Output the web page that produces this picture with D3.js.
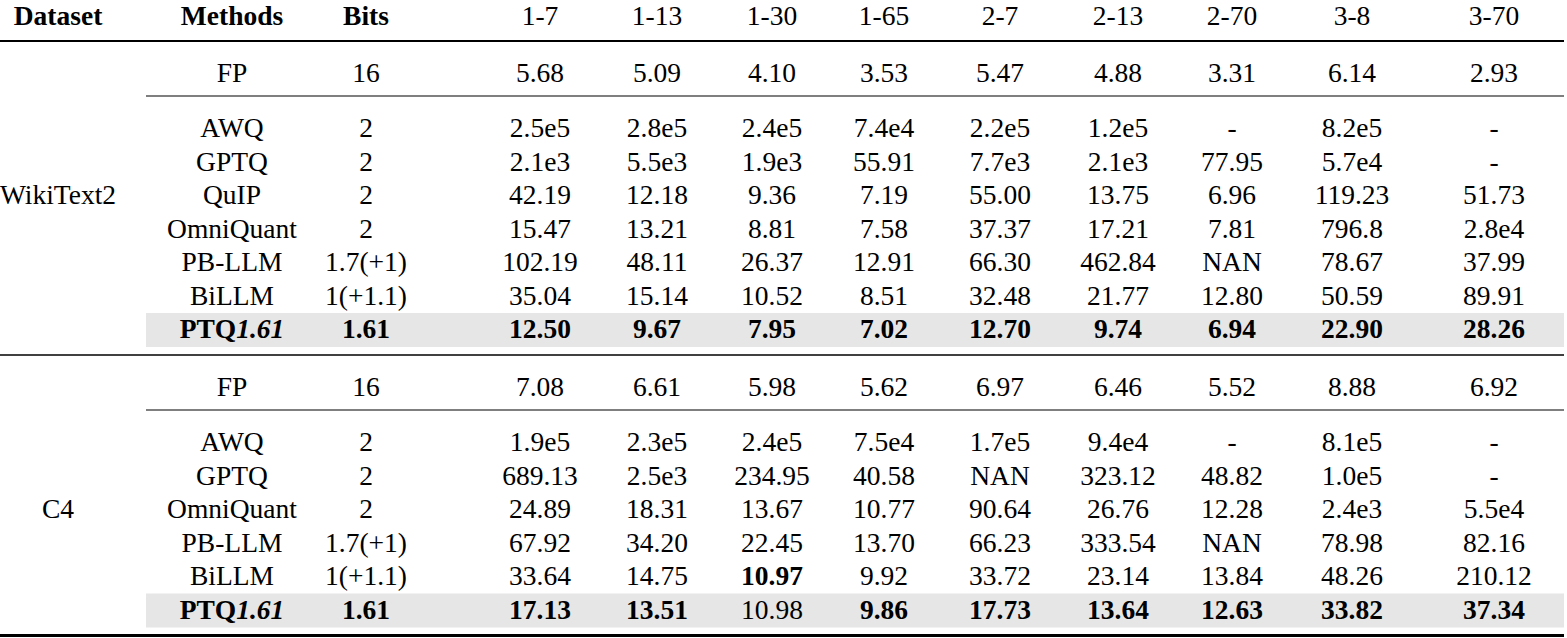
<!DOCTYPE html>
<html>
<head>
<meta charset="utf-8">
<script src="https://cdn.jsdelivr.net/npm/d3@7"></script>
<style>
  body { margin: 0; background: #fff; }
  svg text { font-family: "Liberation Serif", "DejaVu Serif", serif; font-size: 27.5px; fill: #000; }
  .bold { font-weight: bold; }
</style>
</head>
<body>
<div id="container"></div>
<script>
const width = 1567, height = 638

// column keys
const columns = ["1-7", "1-13", "1-30", "1-65", "2-7", "2-13", "2-70", "3-8", "3-70"]
const headKeys = ["dataset", "method", "bits"].concat(columns)
const headLabels = ["Dataset", "Methods", "Bits"].concat(columns)

// WikiText2
const wikiFP = ["5.68", "5.09", "4.10", "3.53", "5.47", "4.88", "3.31", "6.14", "2.93"]
const wikiMethods = ["AWQ", "GPTQ", "QuIP", "OmniQuant", "PB-LLM", "BiLLM", "PTQ1.61"]
const wikiBits = ["2", "2", "2", "2", "1.7(+1)", "1(+1.1)", "1.61"]
const wikiValues = [
    ["2.5e5", "2.8e5", "2.4e5", "7.4e4", "2.2e5", "1.2e5", "-", "8.2e5", "-"],
    ["2.1e3", "5.5e3", "1.9e3", "55.91", "7.7e3", "2.1e3", "77.95", "5.7e4", "-"],
    ["42.19", "12.18", "9.36", "7.19", "55.00", "13.75", "6.96", "119.23", "51.73"],
    ["15.47", "13.21", "8.81", "7.58", "37.37", "17.21", "7.81", "796.8", "2.8e4"],
    ["102.19", "48.11", "26.37", "12.91", "66.30", "462.84", "NAN", "78.67", "37.99"],
    ["35.04", "15.14", "10.52", "8.51", "32.48", "21.77", "12.80", "50.59", "89.91"],
    ["12.50", "9.67", "7.95", "7.02", "12.70", "9.74", "6.94", "22.90", "28.26"]
]

// C4
const c4FP = ["7.08", "6.61", "5.98", "5.62", "6.97", "6.46", "5.52", "8.88", "6.92"]
const c4Methods = ["AWQ", "GPTQ", "OmniQuant", "PB-LLM", "BiLLM", "PTQ1.61"]
const c4Bits = ["2", "2", "2", "1.7(+1)", "1(+1.1)", "1.61"]
const c4Values = [
    ["1.9e5", "2.3e5", "2.4e5", "7.5e4", "1.7e5", "9.4e4", "-", "8.1e5", "-"],
    ["689.13", "2.5e3", "234.95", "40.58", "NAN", "323.12", "48.82", "1.0e5", "-"],
    ["24.89", "18.31", "13.67", "10.77", "90.64", "26.76", "12.28", "2.4e3", "5.5e4"],
    ["67.92", "34.20", "22.45", "13.70", "66.23", "333.54", "NAN", "78.98", "82.16"],
    ["33.64", "14.75", "10.97", "9.92", "33.72", "23.14", "13.84", "48.26", "210.12"],
    ["17.13", "13.51", "10.98", "9.86", "17.73", "13.64", "12.63", "33.82", "37.34"]
]

// best results (bold): [row, column]
const wikiBest = columns.map(c => ["PTQ1.61", c])
const c4Best = columns.filter(c => c !== "1-30").map(c => ["PTQ1.61", c]).concat([["BiLLM", "1-30"]])

const x = d3.scaleOrdinal()
    .domain(headKeys)
    .range([58, 232, 366, 540, 657, 772, 884, 1000, 1118, 1232, 1352, 1494])

const svg = d3.select("#container").append("svg")
    .attr("width", width)
    .attr("height", height)

const ruleLeft = 146, ruleRight = 1564

function rule(y, x1, w) {
    svg.append("line")
        .attr("x1", x1).attr("x2", ruleRight)
        .attr("y1", y).attr("y2", y)
        .attr("stroke", "#000").attr("stroke-width", w)
}

// header
svg.append("g").selectAll("text")
    .data(headKeys)
    .join("text")
    .attr("class", (d, i) => i < 3 ? "bold" : null)
    .attr("x", d => x(d))
    .attr("y", 25)
    .attr("text-anchor", "middle")
    .text((d, i) => headLabels[i])

rule(41, 0, 2)

function methodLabel(sel) {
    sel.each(function (d) {
        let t = d3.select(this)
        if (d === "PTQ1.61") {
            t.attr("class", "bold")
            t.append("tspan").text("PTQ")
            t.append("tspan").attr("font-style", "italic").text("1.61")
        } else t.text(d)
    })
}

function block(name, labelRow, fp, methods, bits, values, best, top) {
    let fpY = top + 41
    let g = svg.append("g")

    // FP row
    g.append("text").attr("x", x("method")).attr("y", fpY).attr("text-anchor", "middle").text("FP")
    g.append("text").attr("x", x("bits")).attr("y", fpY).attr("text-anchor", "middle").text("16")
    g.selectAll(".fp").data(fp).join("text")
        .attr("class", "fp")
        .attr("x", (d, i) => x(columns[i]))
        .attr("y", fpY)
        .attr("text-anchor", "middle")
        .text(d => d)

    let sep = fpY + 14
    rule(sep, ruleLeft, 1.2)

    let y = d3.scaleLinear()
        .domain([0, methods.length - 1])
        .range([sep + 41, sep + 41 + (methods.length - 1) * 33.5])

    // shaded row for ours
    let oursIdx = methods.indexOf("PTQ1.61")
    g.append("rect")
        .attr("x", ruleLeft).attr("width", ruleRight - ruleLeft)
        .attr("y", y(oursIdx) - 25).attr("height", 34)
        .attr("fill", "#e6e6e6")

    // dataset label
    g.append("text")
        .attr("x", x("dataset"))
        .attr("y", y(labelRow))
        .attr("text-anchor", "middle")
        .text(name)

    g.selectAll(".m").data(methods).join("text")
        .attr("class", "m")
        .attr("x", x("method"))
        .attr("y", (d, i) => y(i))
        .attr("text-anchor", "middle")
        .call(methodLabel)

    g.selectAll(".b").data(bits).join("text")
        .attr("x", x("bits"))
        .attr("y", (d, i) => y(i))
        .attr("text-anchor", "middle")
        .attr("font-weight", (d, i) => methods[i] === "PTQ1.61" ? "bold" : null)
        .text(d => d)

    let cells = []
    values.forEach((row, r) => row.forEach((v, c) => cells.push({
        r, c: columns[c], v,
        bold: best.some(b => b[0] === methods[r] && b[1] === columns[c])
    })))

    g.selectAll(".v").data(cells).join("text")
        .attr("x", d => x(d.c))
        .attr("y", d => y(d.r))
        .attr("text-anchor", "middle")
        .attr("font-weight", d => d.bold ? "bold" : null)
        .text(d => d.v)

    return y(methods.length - 1) + 17
}

let mid = block("WikiText2", 2, wikiFP, wikiMethods, wikiBits, wikiValues, wikiBest, 41)
rule(mid, 0, 1.4)
let bottom = block("C4", 2, c4FP, c4Methods, c4Bits, c4Values, c4Best, mid)
rule(bottom, 0, 3)
</script>
</body>
</html>
